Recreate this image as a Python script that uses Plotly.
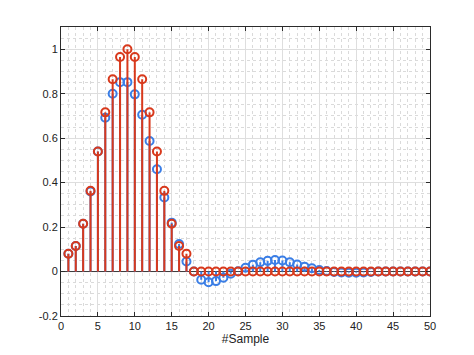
import plotly.graph_objects as go

samples = list(range(1, 51))

window_vals = [0.08, 0.115, 0.215, 0.363, 0.54, 0.716, 0.865, 0.965, 1.0,
               0.965, 0.865, 0.716, 0.54, 0.363, 0.215, 0.115, 0.08] + [0.0] * 33

filtered_vals = [0.08, 0.115, 0.215, 0.36, 0.54, 0.692, 0.80, 0.852, 0.852,
                 0.797, 0.705, 0.587, 0.46, 0.333, 0.22, 0.124, 0.045,
                 0.0, -0.037, -0.048, -0.043, -0.028, -0.01, 0.001, 0.017,
                 0.031, 0.042, 0.048, 0.052, 0.05, 0.042, 0.032, 0.022,
                 0.015, 0.007, 0.002, -0.002, -0.004, -0.005, -0.005,
                 -0.004, -0.002, 0.0, 0.0, 0.0, 0.0, 0.0, 0.0, 0.0, 0.0]

x_ticks = [0, 5, 10, 15, 20, 25, 30, 35, 40, 45, 50]
y_ticks = [-0.2, 0, 0.2, 0.4, 0.6, 0.8, 1]
y_tick_text = ["-0.2", "0", "0.2", "0.4", "0.6", "0.8", "1"]

RED = "#D8391C"
BLUE = "#3A7EE6"


def stem_xy(xs, ys):
    sx, sy = [], []
    for x, y in zip(xs, ys):
        sx += [x, x, None]
        sy += [0, y, None]
    return sx, sy


fig = go.Figure()

# baseline
fig.add_trace(go.Scatter(x=[0, 50], y=[0, 0], mode="lines",
                         line=dict(color="#3a3a3a", width=1), hoverinfo="skip",
                         showlegend=False))

bx, by = stem_xy(samples, filtered_vals)
fig.add_trace(go.Scatter(x=bx, y=by, mode="lines", line=dict(color=BLUE, width=2),
                         showlegend=False, hoverinfo="skip"))
fig.add_trace(go.Scatter(x=samples, y=filtered_vals, mode="markers",
                         marker=dict(symbol="circle-open", size=8, color=BLUE,
                                     line=dict(width=2, color=BLUE)),
                         showlegend=False))

rx, ry = stem_xy(samples, window_vals)
fig.add_trace(go.Scatter(x=rx, y=ry, mode="lines", line=dict(color=RED, width=2),
                         showlegend=False, hoverinfo="skip"))
fig.add_trace(go.Scatter(x=samples, y=window_vals, mode="markers",
                         marker=dict(symbol="circle-open", size=8, color=RED,
                                     line=dict(width=2, color=RED)),
                         showlegend=False))

axis_common = dict(
    showline=True, linecolor="#2b2b2b", linewidth=1, mirror="ticks",
    ticks="inside", ticklen=4, tickcolor="#2b2b2b",
    showgrid=True, gridcolor="#dedede", gridwidth=1, zeroline=False,
    tickfont=dict(family="Liberation Sans, Arial", size=11, color="#222222"),
)

fig.update_xaxes(range=[0, 50], tickvals=x_ticks,
                 title=dict(text="#Sample", font=dict(family="Liberation Sans, Arial",
                                                      size=12, color="#222222"),
                            standoff=0),
                 minor=dict(dtick=1, showgrid=True, griddash="dot",
                            gridcolor="#dadada", gridwidth=1, ticks=""),
                 **axis_common)
fig.update_yaxes(range=[-0.2, 1.1], tickvals=y_ticks, ticktext=y_tick_text,
                 minor=dict(dtick=0.05, showgrid=True, griddash="dot",
                            gridcolor="#dadada", gridwidth=1, ticks=""),
                 **axis_common)

# page body has an 8px default margin, so size the figure to fit the window
fig.update_layout(width=466, height=347, plot_bgcolor="white", paper_bgcolor="white",
                  margin=dict(l=53, r=44, t=19, b=39, autoexpand=False))

fig.write_html("out.html")
